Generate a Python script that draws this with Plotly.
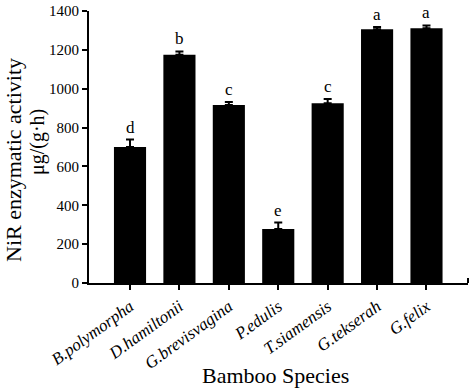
import plotly.graph_objects as go

species = ["B.polymorpha", "D.hamiltonii", "G.brevisvagina", "P.edulis",
           "T.siamensis", "G.tekserah", "G.felix"]
activity = [700, 1175, 916, 278, 925, 1306, 1311]
errors = [38, 17, 15, 33, 22, 12, 15]
letters = ["d", "b", "c", "e", "c", "a", "a"]
y_ticks = [0, 200, 400, 600, 800, 1000, 1200, 1400]

FONT = "Liberation Serif, Times New Roman, serif"

fig = go.Figure()
fig.add_trace(go.Bar(
    x=list(range(len(species))),
    y=activity,
    width=0.65,
    marker=dict(color="black", line=dict(width=0)),
    error_y=dict(type="data", array=errors, symmetric=False, arrayminus=[0]*len(errors),
                 color="black", thickness=2, width=4, visible=True),
))

for i, (v, e, l) in enumerate(zip(activity, errors, letters)):
    fig.add_annotation(x=i, y=v + e, text=l, showarrow=False, yanchor="bottom",
                       yshift=1, font=dict(family=FONT, size=17, color="black"))

fig.add_annotation(text="NiR enzymatic activity", xref="paper", yref="paper",
                   x=0, y=(283 - 160) / 272, xshift=-76, textangle=-90, showarrow=False,
                   xanchor="center", yanchor="middle",
                   font=dict(family=FONT, size=22, color="black"))
fig.add_annotation(text="μg/(g·h)", xref="paper", yref="paper",
                   x=0, y=(283 - 142) / 272, xshift=-52, textangle=-90, showarrow=False,
                   xanchor="center", yanchor="middle",
                   font=dict(family=FONT, size=20, color="black"))
fig.add_annotation(text="Bamboo Species", xref="paper", yref="paper",
                   x=(275 - 89) / 379, y=0, yshift=-(375 - 283), showarrow=False,
                   xanchor="center", yanchor="middle",
                   font=dict(family=FONT, size=22, color="black"))

# small upward end-tick at the right end of the x axis
fig.add_shape(type="line", xref="paper", yref="paper", x0=1, x1=1, y0=0, y1=0.018,
              line=dict(color="black", width=2))

fig.update_layout(
    width=474, height=390,
    margin=dict(l=89, r=6, t=11, b=107),
    paper_bgcolor="white", plot_bgcolor="white",
    showlegend=False,
    font=dict(family=FONT, color="black"),
    xaxis=dict(
        range=[-0.83, 6.84],
        automargin=False,
        tickmode="array",
        tickvals=list(range(len(species))),
        ticktext=[f"<i>{s}</i>" for s in species],
        tickangle=-36,
        ticks="outside", ticklen=5, tickwidth=2, tickcolor="black",
        showline=True, linecolor="black", linewidth=2,
        showgrid=False, zeroline=False,
        tickfont=dict(family=FONT, size=17, color="black"),
    ),
    yaxis=dict(
        range=[0, 1400],
        automargin=False,
        tickmode="array",
        tickvals=y_ticks,
        ticks="outside", ticklen=5, tickwidth=2, tickcolor="black",
        showline=True, linecolor="black", linewidth=2,
        showgrid=False, zeroline=False,
        tickfont=dict(family=FONT, size=15, color="black"),
    ),
)

fig.write_html("out.html", config={"displayModeBar": False},
               post_script="document.body.style.margin='0';")
